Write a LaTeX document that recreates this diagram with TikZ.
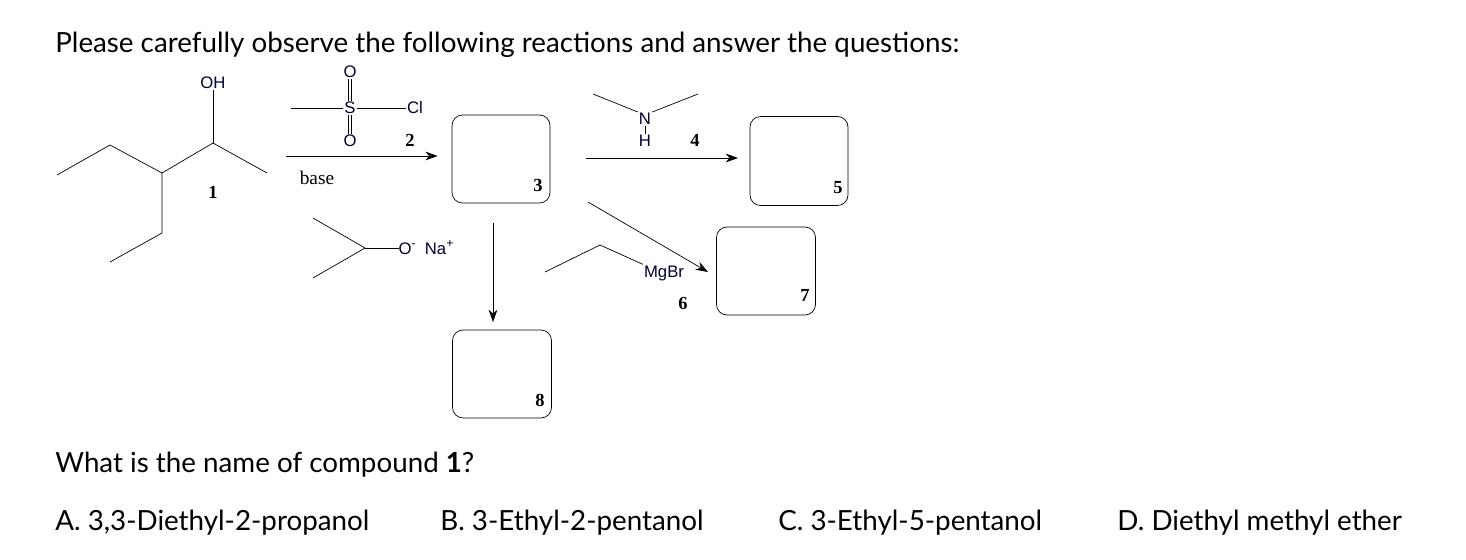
\documentclass[tikz,border=0pt]{standalone}
\usepackage{fontspec}
\setmainfont{Lato}
\newfontfamily\chemfont{Liberation Sans}
\newfontfamily\numfont{Liberation Serif}
\usetikzlibrary{arrows.meta}
\begin{document}
\begin{tikzpicture}
            [x=0.02cm,y=-0.02cm,
             Atom/.style={inner sep=0.5pt,font=\chemfont\fontsize{9.5}{10}\selectfont,text=black!80!blue},
             Num/.style={inner sep=0pt,font=\numfont\bfseries\fontsize{10.5}{11}\selectfont},
             Box/.style={draw,rounded corners=6pt,thin},
             Txt/.style={anchor=west,inner sep=0pt,font=\fontsize{15.8}{18}\selectfont},
             Rxn/.style={-{Stealth[length=7pt,width=5pt]},thin}];
            \useasboundingbox (0,0) rectangle (1466,560);

            \node[Txt] (title) at (55,45) {Please carefully observe the following reactions and answer the questions:};

            % compound 1
            \node[Atom] (oh) at (213,83) {OH};
            \draw[thin] (57,175)--(110,145)--(162,173)--(213,143)--(267,173);
            \draw[thin] (213,143)--(oh);
            \draw[thin] (162,173)--(162,233)--(110,262);
            \node[Num] (n1) at (213,192) {1};

            % mesyl chloride 2
            \node[Atom] (s) at (350,108) {S};
            \node[Atom] (cl) at (415,108) {Cl};
            \node[Atom] (ot) at (350,72) {O};
            \node[Atom] (ob) at (350,141) {O};
            \draw[thin] (291,108)--(s);
            \draw[thin] (s)--(cl);
            \draw[thin] ([xshift=-1pt]ot.south)--([xshift=-1pt]s.north);
            \draw[thin] ([xshift=1pt]ot.south)--([xshift=1pt]s.north);
            \draw[thin] ([xshift=-1pt]ob.north)--([xshift=-1pt]s.south);
            \draw[thin] ([xshift=1pt]ob.north)--([xshift=1pt]s.south);
            \node[Num] (n2) at (410,140) {2};

            % boxes
            \node[Box,minimum width=98*0.02cm,minimum height=88*0.02cm] (b3) at (501,159) {};
            \node[Box,minimum width=98*0.02cm,minimum height=89*0.02cm] (b5) at (799,161) {};
            \node[Box,minimum width=99*0.02cm,minimum height=88*0.02cm] (b7) at (766,271) {};
            \node[Box,minimum width=99*0.02cm,minimum height=88*0.02cm] (b8) at (502,374) {};
            \node[Num] at (538,185) {3};
            \node[Num] at (838,188) {5};
            \node[Num] at (805,295) {7};
            \node[Num] at (540,400) {8};

            % step 1
            \coordinate (a1) at (286,156);
            \draw[Rxn] (a1)--([xshift=-8pt]b3.west |- a1);
            \node[font=\numfont\fontsize{11}{12}\selectfont,inner sep=0pt] (base) at (317,178) {base};

            % dimethylamine 4
            \node[Atom] (n) at (645,119) {N};
            \node[Atom] (h) at (645,141) {H};
            \draw[thin] (593,94)--(n.north west);
            \draw[thin] (n.north east)--(698,94);
            \draw[thin] (n)--(h);
            \node[Num] (n4) at (695,140) {4};
            \coordinate (a4) at (586,158);
            \draw[Rxn] (a4)--(738,158);

            % isopropoxide
            \node[Atom] (om) at (426,248) {O\raisebox{0.8ex}{\scriptsize -}\ \ Na\raisebox{0.8ex}{\scriptsize +}};
            \draw[thin] (313,218)--(365,248)--(313,278);
            \draw[thin] (365,248)--([xshift=1pt]om.west);
            \coordinate (a8) at (493,223);
            \draw[Rxn] (a8)--(493,322);

            % ethylmagnesium bromide 6
            \node[Atom] (mg) at (664,273) {MgBr};
            \draw[thin] (545,272)--(600,245)--(mg.north west);
            \node[Num] (n6) at (683,303) {6};
            \coordinate (a6) at (588,202);
            \draw[Rxn] (a6)--(708,272);

            % question
            \node[Txt] (q) at (55,465) {What is the name of compound \textbf{1}?};
            \node[Txt] (oa) at (55,523) {A. 3,3-Diethyl-2-propanol};
            \node[Txt] (ob2) at (440,523) {B. 3-Ethyl-2-pentanol};
            \node[Txt] (oc) at (778,523) {C. 3-Ethyl-5-pentanol};
            \node[Txt] (od) at (1117,523) {D. Diethyl methyl ether};
        \end{tikzpicture}
\end{document}
